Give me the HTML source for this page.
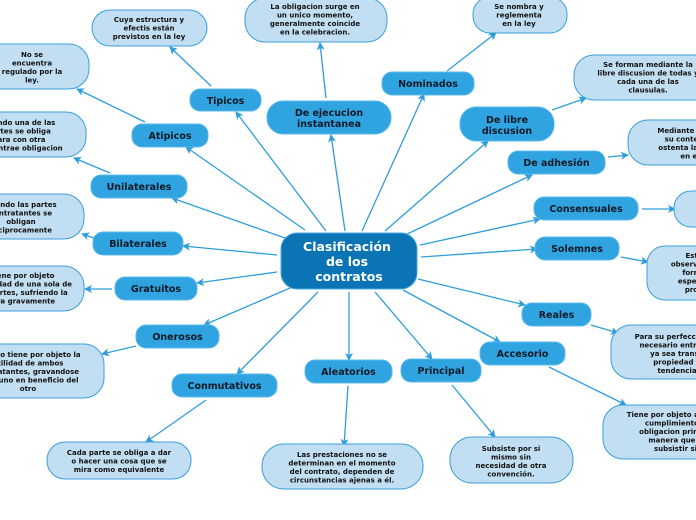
<!DOCTYPE html>
<html><head><meta charset="utf-8"><style>
html,body{margin:0;padding:0;background:#fff;width:696px;height:520px;overflow:hidden}
svg{display:block}
text{font-family:"DejaVu Sans","Liberation Sans",sans-serif;font-weight:bold}
.c{fill:#2fa4e0;stroke:#5bb8ea;stroke-width:1}
.l{fill:#c2def2;stroke:#3a9fdc;stroke-width:1}
.ct{font-size:9.5px;fill:#0d1a26;text-anchor:middle}
.lt{font-size:7px;fill:#111;text-anchor:middle}
.ln{stroke:#2e9ddb;stroke-width:1.3;fill:none;marker-end:url(#a)}
</style></head><body>
<svg width="696" height="520" viewBox="0 0 696 520" xmlns="http://www.w3.org/2000/svg">
<defs><marker id="a" markerWidth="8" markerHeight="8" refX="7" refY="4" orient="auto" markerUnits="userSpaceOnUse"><path d="M0,0 L8,4 L0,8 L2,4 z" fill="#2e9ddb"/></marker></defs>
<g>
<line class="ln" x1="326" y1="231" x2="236" y2="112"/>
<line class="ln" x1="345" y1="231" x2="331" y2="135"/>
<line class="ln" x1="362" y1="231" x2="424" y2="94"/>
<line class="ln" x1="385" y1="231" x2="488" y2="141"/>
<line class="ln" x1="405" y1="235" x2="532" y2="175"/>
<line class="ln" x1="420" y1="245" x2="540" y2="219"/>
<line class="ln" x1="421" y1="257" x2="537" y2="249"/>
<line class="ln" x1="418" y1="279" x2="525" y2="305"/>
<line class="ln" x1="403" y1="290" x2="500" y2="342"/>
<line class="ln" x1="375" y1="292" x2="432" y2="359"/>
<line class="ln" x1="349" y1="292" x2="349" y2="360"/>
<line class="ln" x1="318" y1="292" x2="237" y2="374"/>
<line class="ln" x1="290" y1="288" x2="204" y2="325"/>
<line class="ln" x1="277" y1="272" x2="197" y2="283"/>
<line class="ln" x1="277" y1="255" x2="183" y2="246"/>
<line class="ln" x1="285" y1="238" x2="172" y2="198"/>
<line class="ln" x1="305" y1="230" x2="186" y2="147"/>
<line class="ln" x1="211" y1="86" x2="170" y2="47"/>
<line class="ln" x1="326" y1="98" x2="320" y2="43"/>
<line class="ln" x1="447" y1="71" x2="496" y2="33"/>
<line class="ln" x1="552" y1="110" x2="586" y2="98"/>
<line class="ln" x1="608" y1="157" x2="628" y2="155"/>
<line class="ln" x1="642" y1="209" x2="675" y2="209"/>
<line class="ln" x1="621" y1="257" x2="648" y2="262"/>
<line class="ln" x1="591" y1="325" x2="618" y2="333"/>
<line class="ln" x1="549" y1="367" x2="626" y2="405"/>
<line class="ln" x1="452" y1="385" x2="495" y2="437"/>
<line class="ln" x1="348" y1="386" x2="344" y2="446"/>
<line class="ln" x1="206" y1="400" x2="146" y2="442"/>
<line class="ln" x1="136" y1="346" x2="102" y2="354"/>
<line class="ln" x1="112" y1="289" x2="85" y2="289"/>
<line class="ln" x1="94" y1="238" x2="82" y2="234"/>
<line class="ln" x1="110" y1="173" x2="74" y2="158"/>
<line class="ln" x1="145" y1="122" x2="77" y2="89"/>
</g>
<rect class="l" x="92" y="10" width="115" height="36" rx="18"/>
<text class="lt" x="149" y="22">Cuya estructura y<tspan x="149" dy="8.5">efectis están</tspan><tspan x="149" dy="8.5">previstos en la ley</tspan></text>
<rect class="l" x="245" y="-2" width="142" height="44" rx="20"/>
<text class="lt" x="315" y="9">La obligacion surge en<tspan x="315" dy="8.5">un unico momento,</tspan><tspan x="315" dy="8.5">generalmente coincide</tspan><tspan x="315" dy="8.5">en la celebracion.</tspan></text>
<rect class="l" x="473" y="-3" width="94" height="36" rx="17"/>
<text class="lt" x="519" y="9">Se nombra y<tspan x="519" dy="8.5">reglementa</tspan><tspan x="519" dy="8.5">en la ley</tspan></text>
<rect class="l" x="574" y="55" width="140" height="45" rx="20"/>
<text class="lt" x="648" y="67">Se forman mediante la<tspan x="648" dy="8.5">libre discusion de todas y</tspan><tspan x="648" dy="8.5">cada una de las</tspan><tspan x="648" dy="8.5">clausulas.</tspan></text>
<rect class="l" x="628" y="120" width="100" height="45" rx="20"/>
<text class="lt" x="690" y="133">Mediante la cual<tspan x="690" dy="8.5">su contenido</tspan><tspan x="690" dy="8.5">ostenta la parte</tspan><tspan x="690" dy="8.5">en el</tspan></text>
<rect class="l" x="674" y="191" width="60" height="36" rx="17"/>
<rect class="l" x="647" y="246" width="80" height="54" rx="18"/>
<text class="lt" x="694" y="258">Esta<tspan x="694" dy="8.5">observando</tspan><tspan x="694" dy="8.5">forma</tspan><tspan x="694" dy="8.5">especial</tspan><tspan x="694" dy="8.5">prop</tspan></text>
<rect class="l" x="611" y="325" width="110" height="54" rx="20"/>
<text class="lt" x="677" y="339">Para su perfeccion es<tspan x="677" dy="8.5">necesario entregar</tspan><tspan x="677" dy="8.5">ya sea transfi</tspan><tspan x="677" dy="8.5">propiedad o</tspan><tspan x="677" dy="8.5">tendencia</tspan></text>
<rect class="l" x="603" y="405" width="115" height="54" rx="20"/>
<text class="lt" x="678" y="417">Tiene por objeto asegurar<tspan x="678" dy="8.5">cumplimiento de</tspan><tspan x="678" dy="8.5">obligacion principal</tspan><tspan x="678" dy="8.5">manera que no</tspan><tspan x="678" dy="8.5">subsistir sin</tspan></text>
<rect class="l" x="450" y="437" width="123" height="46" rx="22"/>
<text class="lt" x="511" y="451">Subsiste por si<tspan x="511" dy="8.5">mismo sin</tspan><tspan x="511" dy="8.5">necesidad de otra</tspan><tspan x="511" dy="8.5">convención.</tspan></text>
<rect class="l" x="262" y="444" width="161" height="45" rx="22"/>
<text class="lt" x="342" y="457">Las prestaciones no se<tspan x="342" dy="8.5">determinan en el momento</tspan><tspan x="342" dy="8.5">del contrato, dependen de</tspan><tspan x="342" dy="8.5">circunstancias ajenas a él.</tspan></text>
<rect class="l" x="47" y="442" width="144" height="37" rx="18"/>
<text class="lt" x="119" y="455">Cada parte se obliga a dar<tspan x="119" dy="8.5">o hacer una cosa que se</tspan><tspan x="119" dy="8.5">mira como equivalente</tspan></text>
<rect class="l" x="-20" y="344" width="124" height="54" rx="20"/>
<text class="lt" x="28" y="357">Cuando tiene por objeto la<tspan x="28" dy="8.5">utilidad de ambos</tspan><tspan x="28" dy="8.5">contratantes, gravandose</tspan><tspan x="28" dy="8.5">cada uno en beneficio del</tspan><tspan x="28" dy="8.5">otro</tspan></text>
<rect class="l" x="-20" y="266" width="104" height="45" rx="20"/>
<text class="lt" x="22" y="278">Tiene por objeto<tspan x="22" dy="8.5">la utilidad de una sola de</tspan><tspan x="22" dy="8.5">las partes, sufriendo la</tspan><tspan x="22" dy="8.5">otra gravamente</tspan></text>
<rect class="l" x="-20" y="194" width="104" height="45" rx="20"/>
<text class="lt" x="21" y="207">Cuando las partes<tspan x="21" dy="8.5">contratantes se</tspan><tspan x="21" dy="8.5">obligan</tspan><tspan x="21" dy="8.5">reciprocamente</tspan></text>
<rect class="l" x="-20" y="112" width="106" height="45" rx="20"/>
<text class="lt" x="19" y="125">Cuando una de las<tspan x="19" dy="8.5">partes se obliga</tspan><tspan x="19" dy="8.5">para con otra</tspan><tspan x="19" dy="8.5">sin contrae obligacion</tspan></text>
<rect class="l" x="-20" y="44" width="109" height="45" rx="20"/>
<text class="lt" x="32" y="57">No se<tspan x="32" dy="8.5">encuentra</tspan><tspan x="32" dy="8.5">regulado por la</tspan><tspan x="32" dy="8.5">ley.</tspan></text>
<rect class="c" x="190" y="89" width="71" height="22" rx="10"/><text class="ct" x="225.5" y="104">Tipicos</text>
<rect class="c" x="267" y="101" width="124" height="33" rx="16"/><text class="ct" x="329" y="116">De ejecucion<tspan x="329" dy="11">instantanea</tspan></text>
<rect class="c" x="382" y="72" width="92" height="23" rx="10"/><text class="ct" x="428" y="87">Nominados</text>
<rect class="c" x="460" y="107" width="94" height="34" rx="16"/><text class="ct" x="507" y="123">De libre<tspan x="507" dy="11">discusion</tspan></text>
<rect class="c" x="508" y="151" width="97" height="23" rx="10"/><text class="ct" x="556.5" y="166">De adhesión</text>
<rect class="c" x="534" y="197" width="104" height="23" rx="10"/><text class="ct" x="586" y="212">Consensuales</text>
<rect class="c" x="535" y="237" width="84" height="23" rx="10"/><text class="ct" x="577" y="252">Solemnes</text>
<rect class="c" x="132" y="124" width="76" height="23" rx="10"/><text class="ct" x="170" y="139">Atipicos</text>
<rect class="c" x="91" y="175" width="96" height="23" rx="10"/><text class="ct" x="139" y="190">Unilaterales</text>
<rect class="c" x="93" y="232" width="90" height="23" rx="10"/><text class="ct" x="138" y="247">Bilaterales</text>
<rect class="c" x="115" y="277" width="82" height="23" rx="10"/><text class="ct" x="156" y="292">Gratuitos</text>
<rect class="c" x="136" y="325" width="83" height="23" rx="10"/><text class="ct" x="177.5" y="340">Onerosos</text>
<rect class="c" x="172" y="374" width="105" height="23" rx="10"/><text class="ct" x="224.5" y="389">Conmutativos</text>
<rect class="c" x="305" y="360" width="87" height="23" rx="10"/><text class="ct" x="348.5" y="375">Aleatorios</text>
<rect class="c" x="401" y="359" width="80" height="23" rx="10"/><text class="ct" x="441" y="374">Principal</text>
<rect class="c" x="480" y="342" width="85" height="23" rx="10"/><text class="ct" x="522.5" y="357">Accesorio</text>
<rect class="c" x="522" y="303" width="69" height="23" rx="10"/><text class="ct" x="556.5" y="318">Reales</text>
<rect x="281" y="233" width="136" height="56" rx="16" fill="#0a74b4" stroke="#4aa8e0" stroke-width="1"/>
<text x="347" y="251" style="font-size:12.5px;fill:#fff;text-anchor:middle">Clasificación<tspan x="347" dy="15">de los</tspan><tspan x="349" dy="15">contratos</tspan></text>
</svg>
</body></html>
